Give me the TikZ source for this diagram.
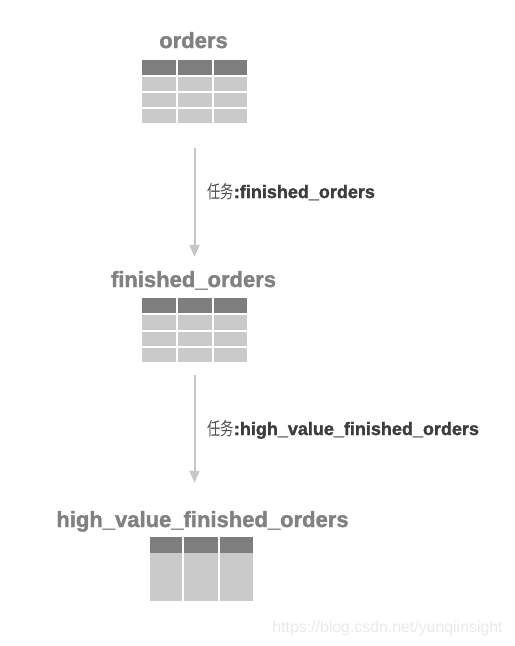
\documentclass[tikz,border=0pt]{standalone}
\usepackage{fontspec}
\setmainfont{Liberation Sans}
\newfontfamily\heavy{Liberation Sans}[FakeBold=1.6]
\newfontfamily\cjk{Noto Sans CJK SC}[FakeStretch=0.74]
\usetikzlibrary{arrows.meta}
\definecolor{titlegrey}{HTML}{818181}
\definecolor{hdrgrey}{HTML}{7E7E7E}
\definecolor{bodygrey}{HTML}{CACACA}
\definecolor{arrowgrey}{HTML}{C6C6C6}
\definecolor{labelgrey}{HTML}{3C3C3C}
\definecolor{cjkgrey}{HTML}{505050}
\definecolor{wmgrey}{HTML}{EAEAEA}
\begin{document}
\begin{tikzpicture}[x=0.75pt,y=-0.75pt,
  title/.style={anchor=base,inner sep=0,font=\heavy\fontsize{16.5}{18}\selectfont\bfseries,text=titlegrey},
  tasklabel/.style={anchor=base west,inner sep=0,font=\heavy\fontsize{13.5}{15}\selectfont\bfseries,text=labelgrey},
  tablebox/.style={inner sep=0,outer sep=0},
  flow/.style={draw=arrowgrey,line width=1.5pt,-{Triangle[width=7.5pt,length=9pt]}},
  sepline/.style={draw=white,line width=1.5pt}]
\useasboundingbox (0,0) rectangle (514,646);
\fill[white] (0,0) rectangle (514,646);

% titles
\node[title] (t1) at (193.5,48) {orders};
\node[title] (t2) at (193.5,287) {finished\_orders};
\node[title] (t3) at (202.5,527) {high\_value\_finished\_orders};

% table 1
\node[tablebox,minimum width=78.75pt,minimum height=47.25pt] (tb1) at (194.5,91.5) {};
\fill[bodygrey] (142,75) rectangle (247,123);
\fill[hdrgrey] (142,60) rectangle (247,75);
\draw[sepline] (176.5,60) -- (176.5,123) (212.5,60) -- (212.5,123)
  (142,75.5) -- (247,75.5) (142,92) -- (247,92) (142,108) -- (247,108);

% table 2
\node[tablebox,minimum width=78.75pt,minimum height=48pt] (tb2) at (194.5,330) {};
\fill[bodygrey] (142,313) rectangle (247,362);
\fill[hdrgrey] (142,298) rectangle (247,313);
\draw[sepline] (176.5,298) -- (176.5,362) (212.5,298) -- (212.5,362)
  (142,314) -- (247,314) (142,331) -- (247,331) (142,347) -- (247,347);

% table 3
\node[tablebox,minimum width=77.25pt,minimum height=48pt] (tb3) at (201.5,569) {};
\fill[bodygrey] (150,553) rectangle (253,601);
\fill[hdrgrey] (150,537) rectangle (253,553);
\draw[sepline] (183,537) -- (183,601) (219,537) -- (219,601);

% arrows
\draw[flow,shorten <=18.75pt,shorten >=10.5pt] (tb1.south) -- (tb1.south |- t2.north);
\draw[flow,shorten <=9.75pt,shorten >=21pt] (tb2.south) -- (tb2.south |- t3.north);

% labels
\node[tasklabel] (l1) at (207,198) {{\cjk\mdseries\fontsize{13.5}{15}\selectfont\color{cjkgrey}任务}:finished\_orders};
\node[tasklabel] (l2) at (207,435) {{\cjk\mdseries\fontsize{13.5}{15}\selectfont\color{cjkgrey}任务}:high\_value\_finished\_orders};

% watermark
\node[anchor=base,inner sep=0,font=\fontsize{11.9}{13}\selectfont,text=wmgrey] (wm) at (387.5,632) {https://blog.csdn.net/yunqiinsight};
\end{tikzpicture}
\end{document}
